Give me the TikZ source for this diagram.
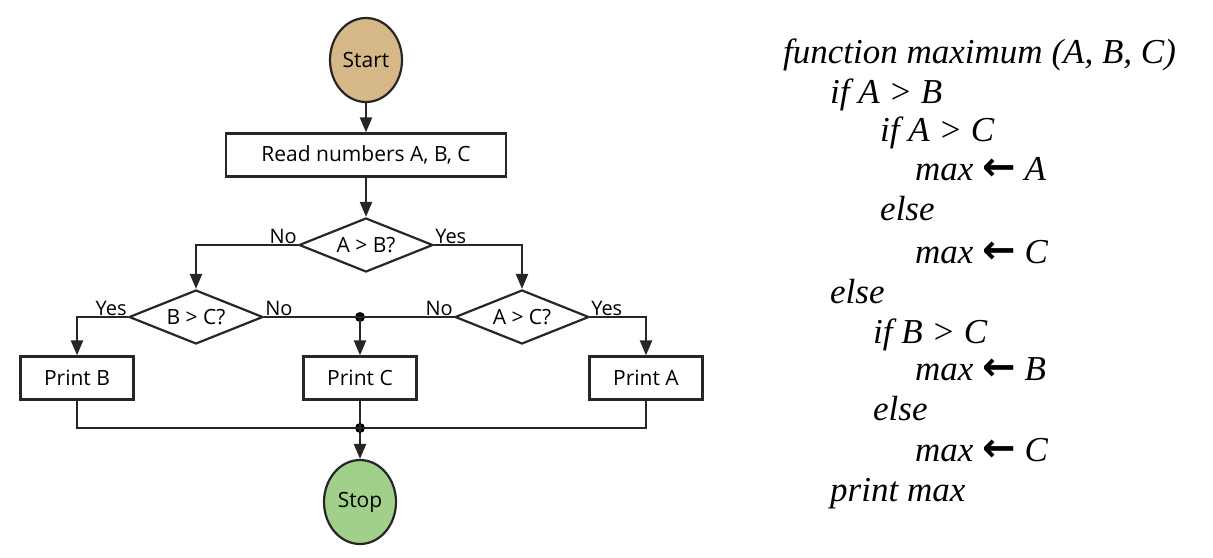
\documentclass[tikz,border=0pt]{standalone}
\usepackage{fontspec}
\setmainfont{Open Sans}
\newfontfamily\hand{Liberation Serif}
\newfontfamily\arrowfont{DejaVu Sans}
\usetikzlibrary{shapes.geometric,arrows.meta}
\newcommand{\larr}{{\arrowfont\bfseries\fontsize{40}{40}\selectfont ←}}
\begin{document}
\begin{tikzpicture}[x=1pt,y=-1pt,
  every node/.style={font=\fontsize{21}{24}\selectfont},
  ln/.style={line width=2.2pt,draw=black!85},
  arr/.style={ln,-{Triangle[length=15pt,width=12pt]}},
  box/.style={ln,rectangle,minimum height=43pt,inner sep=0pt},
  dia/.style={ln,diamond,aspect=2.45,minimum width=134pt,minimum height=54pt,inner sep=0pt},
  term/.style={ln,ellipse,minimum width=72pt,minimum height=84pt,inner sep=0pt},
  lab/.style={font=\fontsize{20}{22}\selectfont,inner sep=1pt,anchor=south},
  code/.style={anchor=base west,inner sep=0pt,font=\hand\itshape\fontsize{35}{38}\selectfont},
  dot/.style={circle,fill=black,inner sep=0pt,minimum size=10pt}]
\useasboundingbox (0,0) rectangle (1213,557);
\node[term,fill={rgb,255:red,214;green,183;blue,136}] (start) at (366,60) {Start};
\node[box,minimum width=280pt] (read) at (366,155) {Read numbers A, B, C};
\node[dia] (ab) at (366,245) {A > B?};
\node[dia] (bc) at (196,317) {B > C?};
\node[dia] (ac) at (522,317) {A > C?};
\node[box,minimum width=113pt] (pb) at (77,378) {Print B};
\node[box,minimum width=113pt] (pc) at (360,378) {Print C};
\node[box,minimum width=113pt] (pa) at (646,378) {Print A};
\node[term,fill={rgb,255:red,160;green,208;blue,138}] (stop) at (360,502) {Stop};
\node[dot] (j1) at (360,317) {};
\node[dot] (j2) at (360,428) {};
\draw[arr] (start) -- (read);
\draw[arr] (read) -- (ab);
\draw[arr] (ab.west) -| (bc.north);
\draw[arr] (ab.east) -| (ac.north);
\draw[arr] (bc.west) -| (pb.north);
\draw[arr] (ac.east) -| (pa.north);
\draw[ln] (bc.east) -- (ac.west);
\draw[arr] (j1.center) -- (pc);
\draw[ln] (pb.south) |- (j2.center) -| (pa.south);
\draw[ln] (pc) -- (j2.center);
\draw[arr] (j2.center) -- (stop);
\node[lab,anchor=south east] at (ab.west) {No};
\node[lab,anchor=south west] at (ab.east) {Yes};
\node[lab,anchor=south east] at (bc.west) {Yes};
\node[lab,anchor=south west] at (bc.east) {No};
\node[lab,anchor=south east] at (ac.west) {No};
\node[lab,anchor=south west] at (ac.east) {Yes};
\node[code] (c1) at (783,63) {function maximum (A, B, C)};
\node[code] (c2) at (830,103) {if A > B};
\node[code] (c3) at (880,141) {if A > C};
\node[code] (c4) at (915,180) {max \larr{} A};
\node[code] (c5) at (880,220) {else};
\node[code] (c6) at (915,263) {max \larr{} C};
\node[code] (c7) at (830,303) {else};
\node[code] (c8) at (873,343) {if B > C};
\node[code] (c9) at (915,380) {max \larr{} B};
\node[code] (c10) at (873,420) {else};
\node[code] (c11) at (915,461) {max \larr{} C};
\node[code] (c12) at (830,501) {print max};
\end{tikzpicture}
\end{document}
